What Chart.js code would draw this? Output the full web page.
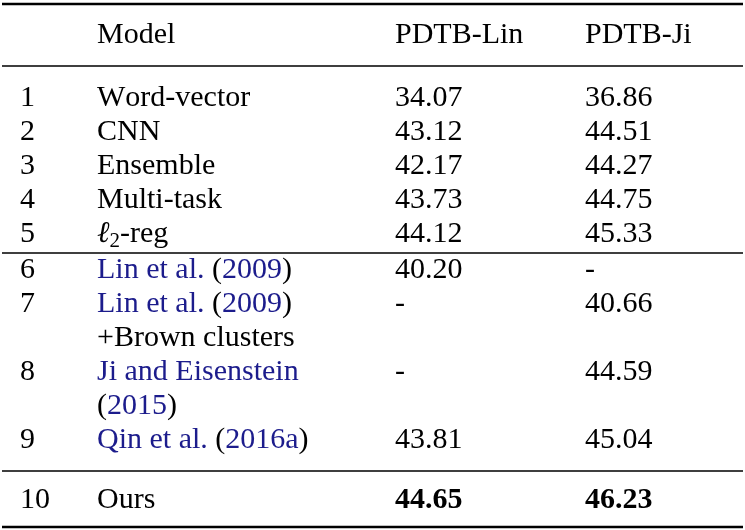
<!DOCTYPE html>
<html>
<head>
<meta charset="utf-8">
<script src="https://cdn.jsdelivr.net/npm/chart.js@4"></script>
<style>body{margin:0;background:#fff}</style>
</head>
<body>
<canvas id="tabla" width="745" height="530"></canvas>
<script>
// datos de la tabla
const headers = ['', 'Model', 'PDTB-Lin', 'PDTB-Ji'];
const rowIds = ['1', '2', '3', '4', '5', '6', '7', '8', '9', '10'];
// [texto] = cita en azul, {2} = subindice
const models = [
    ['Word-vector'], ['CNN'], ['Ensemble'], ['Multi-task'], ['\u2113{2}-reg'],
    ['[Lin et al.] ([2009])'], ['[Lin et al.] ([2009])', '+Brown clusters'],
    ['[Ji and Eisenstein]', '([2015])'], ['[Qin et al.] ([2016a])'], ['Ours']
];
const linScores = ['34.07', '43.12', '42.17', '43.73', '44.12', '40.20', '-', '-', '43.81', '44.65'];
const jiScores = ['36.86', '44.51', '44.27', '44.75', '45.33', '-', '40.66', '44.59', '45.04', '46.23'];
const boldRow = 9;

// posiciones (layout)
const colX = [20, 97, 395, 585];
const rowY = [98, 132, 166, 200, 234, 270, 304, 372, 440, 500];
const headerY = 35;
const lineGap = 34;
const rules = [[4, 2.5], [66, 1.5], [253, 1.5], [471, 1.5], [527, 2.5]];

const SIZE = 30;
const FONT = '"Liberation Serif", "Times New Roman", serif';
const BLUE = '#1c1c8c';

function drawRich(ctx, text, x, y) {
    let i = 0, blue = false;
    while (i < text.length) {
        const ch = text[i];
        if (ch === '[') { blue = true; i++; continue; }
        if (ch === ']') { blue = false; i++; continue; }
        if (ch === '{') {
            const end = text.indexOf('}', i);
            const sub = text.slice(i + 1, end);
            ctx.font = '21px ' + FONT;
            ctx.fillText(sub, x, y + 7);
            x += ctx.measureText(sub).width;
            i = end + 1;
            continue;
        }
        ctx.font = (ch === '\u2113' ? 'italic ' : '') + SIZE + 'px ' + FONT;
        ctx.fillStyle = blue ? BLUE : '#000';
        ctx.fillText(ch, x, y);
        x += ctx.measureText(ch).width;
        ctx.fillStyle = '#000';
        i++;
    }
}

const tablaPlugin = {
    id: 'tabla',
    afterDraw(chart) {
        const ctx = chart.ctx;
        const xs = chart.scales.x, ys = chart.scales.y;
        ctx.save();
        ctx.textBaseline = 'middle';
        ctx.fillStyle = '#000';
        rules.forEach(([y, w]) => {
            ctx.fillRect(xs.getPixelForValue(2), ys.getPixelForValue(y) - w / 2, xs.getPixelForValue(743) - xs.getPixelForValue(2), w);
        });
        ctx.font = SIZE + 'px ' + FONT;
        headers.forEach((h, c) => ctx.fillText(h, xs.getPixelForValue(colX[c]), ys.getPixelForValue(headerY)));
        rowIds.forEach((id, r) => {
            const y = ys.getPixelForValue(rowY[r]);
            ctx.font = SIZE + 'px ' + FONT;
            ctx.fillStyle = '#000';
            ctx.fillText(id, xs.getPixelForValue(colX[0]), y);
            models[r].forEach((line, k) => drawRich(ctx, line, xs.getPixelForValue(colX[1]), ys.getPixelForValue(rowY[r] + k * lineGap)));
            ctx.font = (r === boldRow ? 'bold ' : '') + SIZE + 'px ' + FONT;
            ctx.fillStyle = '#000';
            ctx.fillText(linScores[r], xs.getPixelForValue(colX[2]), y);
            ctx.fillText(jiScores[r], xs.getPixelForValue(colX[3]), y);
        });
        ctx.restore();
    }
};

new Chart(document.getElementById('tabla').getContext('2d'), {
    type: 'scatter',
    data: { datasets: [{ data: [] }] },
    options: {
        responsive: false,
        animation: false,
        layout: { padding: 0 },
        plugins: { legend: { display: false }, tooltip: { enabled: false } },
        scales: {
            x: { type: 'linear', min: 0, max: 745, display: false },
            y: { type: 'linear', min: 0, max: 530, reverse: true, display: false }
        }
    },
    plugins: [tablaPlugin]
});
</script>
</body>
</html>
